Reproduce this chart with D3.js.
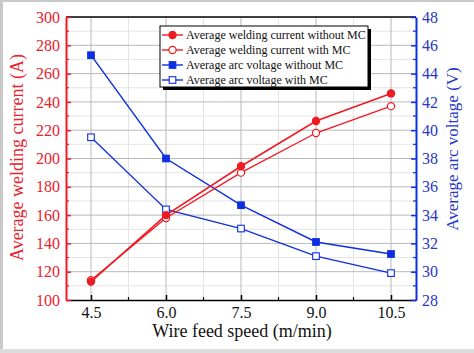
<!DOCTYPE html>
<html><head><meta charset="utf-8">
<script src="https://cdn.jsdelivr.net/npm/d3@7"></script>
<style>
html,body{margin:0;padding:0;background:#fff;}
svg{display:block;}
</style></head>
<body>
<script>
const speeds = [4.5, 6.0, 7.5, 9.0, 10.5];
const currentWithoutMC = [113, 160, 194.5, 226.5, 246];
const currentWithMC = [114, 158, 190, 218, 237];
const voltageWithoutMC = [45.3, 38.0, 34.7, 32.1, 31.25];
const voltageWithMC = [39.5, 34.4, 33.05, 31.1, 29.9];
const xTicks = [4.5, 6.0, 7.5, 9.0, 10.5];
const xMinor = [5.25, 6.75, 8.25, 9.75];
const leftTicks = [100,120,140,160,180,200,220,240,260,280,300];
const rightTicks = [28,30,32,34,36,38,40,42,44,46,48];
const legendLabels = ["Average welding current without MC","Average welding current with MC","Average arc voltage without MC","Average arc voltage with MC"];

const W = 474, H = 353;
const RED = "#f01a22", BLUE = "#0d2fe0";
const RED_T = "#e8222c", BLUE_T = "#2638c8";
const L = 66, R = 416, T = 17, B = 300;
const FONT = '"Times New Roman", "Liberation Serif", Tinos, serif';

function serif(sel, size) {
  sel.attr("font-family", FONT).attr("font-size", size)
     .style("font-family", FONT).style("font-size", size + "px");
}

const svg = d3.select("body").append("svg").attr("width", W).attr("height", H)
  .attr("font-family", FONT);
svg.append("rect").attr("width", W).attr("height", H).attr("fill", "#fff");
svg.append("rect").attr("x",0).attr("y",0).attr("width",3).attr("height",H).attr("fill","#c9c9c9");
svg.append("rect").attr("x",0).attr("y",0).attr("width",W).attr("height",2).attr("fill","#c9c9c9");
svg.append("rect").attr("x",0).attr("y",H-4).attr("width",W).attr("height",4).attr("fill","#dcdcdc");

const x = d3.scaleLinear().domain([4, 11]).range([L, R]);
const yL = d3.scaleLinear().domain([100, 300]).range([B, T]);
const yR = d3.scaleLinear().domain([28, 48]).range([B, T]);

const g = svg.append("g");
const minorY = d3.range(110, 300, 20);
g.selectAll(".gmx").data(xMinor).enter().append("line")
  .attr("x1", d=>x(d)).attr("x2", d=>x(d)).attr("y1", T).attr("y2", B)
  .attr("stroke", "#e4e4e4").attr("stroke-width", 1);
g.selectAll(".gmy").data(minorY).enter().append("line")
  .attr("x1", L).attr("x2", R).attr("y1", d=>yL(d)).attr("y2", d=>yL(d))
  .attr("stroke", "#e4e4e4").attr("stroke-width", 1);
g.selectAll(".gx").data(xTicks).enter().append("line")
  .attr("x1", d=>x(d)).attr("x2", d=>x(d)).attr("y1", T).attr("y2", B)
  .attr("stroke", "#b8b8b8").attr("stroke-width", 1);
g.selectAll(".gy").data(leftTicks.slice(1,-1)).enter().append("line")
  .attr("x1", L).attr("x2", R).attr("y1", d=>yL(d)).attr("y2", d=>yL(d))
  .attr("stroke", "#b8b8b8").attr("stroke-width", 1);

svg.append("line").attr("x1", L).attr("x2", R).attr("y1", T).attr("y2", T).attr("stroke", "#000").attr("stroke-width", 1.5);

// axes
const xAxis = d3.axisBottom(x).tickValues(xTicks).tickFormat(d3.format(".1f")).tickSizeInner(-5).tickSizeOuter(0).tickPadding(7);
const xg = svg.append("g").attr("transform", `translate(0,${B})`).call(xAxis);
xg.attr("font-family", FONT);
xg.select(".domain").attr("stroke", "#000").attr("stroke-width", 1.5);
xg.selectAll(".tick line").attr("stroke", "#000").attr("stroke-width", 1.5);
xg.selectAll("text").call(serif, 16).attr("fill", "#111");
svg.append("g").selectAll("line").data(xMinor).enter().append("line")
  .attr("x1", d=>x(d)).attr("x2", d=>x(d)).attr("y1", B).attr("y2", B-3).attr("stroke", "#000").attr("stroke-width", 1.2);

const lAxis = d3.axisLeft(yL).tickValues(leftTicks).tickSizeInner(-5).tickSizeOuter(0).tickPadding(6);
const lg = svg.append("g").attr("transform", `translate(${L},0)`).call(lAxis);
lg.attr("font-family", FONT);
lg.select(".domain").attr("stroke", RED).attr("stroke-width", 2);
lg.selectAll(".tick line").attr("stroke", RED).attr("stroke-width", 1.5);
lg.selectAll("text").call(serif, 16).attr("fill", RED_T);
svg.append("g").selectAll("line").data(minorY).enter().append("line")
  .attr("x1", L).attr("x2", L+3).attr("y1", d=>yL(d)).attr("y2", d=>yL(d)).attr("stroke", RED).attr("stroke-width", 1.2);

const rAxis = d3.axisRight(yR).tickValues(rightTicks).tickSizeInner(-5).tickSizeOuter(0).tickPadding(6);
const rg = svg.append("g").attr("transform", `translate(${R},0)`).call(rAxis);
rg.attr("font-family", FONT);
rg.select(".domain").attr("stroke", BLUE).attr("stroke-width", 2);
rg.selectAll(".tick line").attr("stroke", BLUE).attr("stroke-width", 1.5);
rg.selectAll("text").call(serif, 16).attr("fill", BLUE_T);
svg.append("g").selectAll("line").data(d3.range(29, 48, 2)).enter().append("line")
  .attr("x1", R).attr("x2", R-3).attr("y1", d=>yR(d)).attr("y2", d=>yR(d)).attr("stroke", BLUE).attr("stroke-width", 1.2);

// titles
svg.append("text").attr("x", 242).attr("y", 337).attr("text-anchor", "middle")
  .call(serif, 18).attr("fill", "#111").text("Wire feed speed (m/min)");
svg.append("text").attr("transform", "translate(23,157.5) rotate(-90)").attr("text-anchor", "middle")
  .call(serif, 18).attr("fill", RED_T).text("Average welding current (A)");
svg.append("text").attr("transform", "translate(458,149) rotate(-90)").attr("text-anchor", "middle")
  .call(serif, 17).attr("fill", BLUE_T).text("Average arc voltage (V)");

// series
const series = [
  {vals: currentWithoutMC, y: yL, color: RED, shape: "circle", filled: true, w: 1.6},
  {vals: currentWithMC, y: yL, color: RED, shape: "circle", filled: false, w: 1.3},
  {vals: voltageWithoutMC, y: yR, color: BLUE, shape: "square", filled: true, w: 1.4},
  {vals: voltageWithMC, y: yR, color: BLUE, shape: "square", filled: false, w: 1.3}
];
function marker(sel, s, cx, cy) {
  if (s.shape === "circle") {
    sel.append("circle").attr("cx", cx).attr("cy", cy).attr("r", 3.6)
      .attr("fill", s.filled ? s.color : "#fff").attr("stroke", s.color).attr("stroke-width", 1.2);
  } else {
    sel.append("rect").attr("x", cx-3.3).attr("y", cy-3.3).attr("width", 6.6).attr("height", 6.6)
      .attr("fill", s.filled ? s.color : "#fff").attr("stroke", s.color).attr("stroke-width", 1.1);
  }
}
const plot = svg.append("g");
[3,2,1,0].forEach(i => {
  const s = series[i];
  const line = d3.line().x((d,j)=>x(speeds[j])).y(d=>s.y(d));
  plot.append("path").datum(s.vals).attr("d", line).attr("fill", "none")
    .attr("stroke", s.color).attr("stroke-width", s.w);
});
[3,2,1,0].forEach(i => {
  const s = series[i];
  const mg = plot.append("g");
  s.vals.forEach((v,j) => marker(mg, s, x(speeds[j]), s.y(v)));
});

// legend
const lgx = 160, lgy = 26, lgw = 208, lgh = 61;
svg.append("rect").attr("x", lgx+3).attr("y", lgy+3).attr("width", lgw).attr("height", lgh).attr("fill", "#000");
svg.append("rect").attr("x", lgx).attr("y", lgy).attr("width", lgw).attr("height", lgh)
  .attr("fill", "#fff").attr("stroke", "#000").attr("stroke-width", 1);
legendLabels.forEach((lab, i) => {
  const s = series[i];
  const cy = 35 + i * 15;
  const lgG = svg.append("g");
  lgG.append("line").attr("x1", 162).attr("x2", 183).attr("y1", cy).attr("y2", cy)
    .attr("stroke", s.color).attr("stroke-width", 1.4);
  marker(lgG, s, 172.5, cy);
  lgG.append("text").attr("x", 186).attr("y", cy + 4).call(serif, 12).attr("fill", "#111").text(lab);
});
</script>
</body></html>
